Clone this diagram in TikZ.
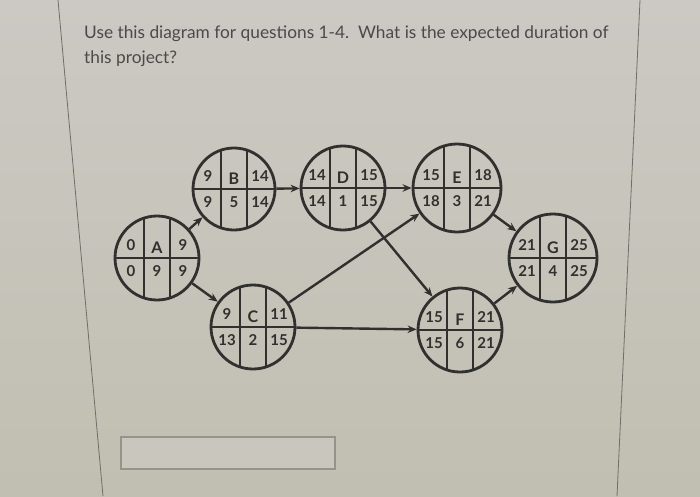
\documentclass[tikz,border=0pt]{standalone}
\usepackage{fontspec}
\setmainfont{Lato}
\usetikzlibrary{arrows.meta}
\definecolor{papertop}{RGB}{204,201,196}
\definecolor{paperbot}{RGB}{193,191,177}
\definecolor{ink}{RGB}{48,48,46}
\definecolor{qtext}{RGB}{74,74,72}
\definecolor{boxline}{RGB}{150,148,138}
\definecolor{boxfill}{RGB}{201,199,189}
\definecolor{edgeline}{RGB}{110,110,106}

\begin{document}
\begin{tikzpicture}[x=1pt, y=-1pt, color=ink]
    \tikzset{
      actnode/.style={circle, draw=ink, line width=2.8pt, minimum size=#1pt, inner sep=0pt},
      cellline/.style={draw=ink, line width=1.6pt},
      celltext/.style={text=ink, inner sep=0pt, font=\fontsize{15}{17}\selectfont\bfseries},
      lettertext/.style={celltext, font=\fontsize{16}{18}\selectfont\bfseries},
      network/.style={-{Stealth[length=9pt, width=7.5pt]}, line width=2.4pt, draw=ink},
      question/.style={anchor=base west, inner sep=0pt, text=qtext, font=\fontsize{17.3}{20}\selectfont}
    }
    % screen photo background
    \shade[top color=papertop, bottom color=paperbot] (0,0) rectangle (700,496);
    \useasboundingbox (0,0) rectangle (700,496);
    \draw[edgeline, line width=0.8pt] (58,0) -- (103,496);
    \draw[edgeline, line width=0.8pt] (640,0) -- (617,496);

    \node (q1) [question] at (84,38) {Use this diagram for questions 1-4.\ \ What is the expected duration of};
    \node (q2) [question] at (84,63) {this project?};

    % activity nodes: name/x/y/radius/ES/letter/EF/LS/duration/LF
    \foreach \n/\x/\y/\r/\es/\l/\ef/\ls/\d/\lf in {
        A/157/258/42/0/A/9/0/9/9,
        B/234/189/41/9/B/14/9/5/14,
        D/343/188/42/14/D/15/14/1/15,
        E/457/188/44/15/E/18/18/3/21,
        C/253/327/42/9/C/11/13/2/15,
        F/460/330/42/15/F/21/15/6/21,
        G/553/258/44/21/G/25/21/4/25}
    {
      \draw (\x,\y) node (\n) [actnode=2*\r] {};
      \begin{scope}
        \clip (\x,\y) circle (\r);
        \draw[cellline] (\x-\r,\y) -- (\x+\r,\y);
        \draw[cellline] (\x-13,\y-\r) -- (\x-13,\y+\r);
        \draw[cellline] (\x+13,\y-\r) -- (\x+13,\y+\r);
      \end{scope}
      \node (\n-es) [celltext] at (\x-26,\y-13) {\es};
      \node (\n-l)  [lettertext] at (\x,\y-10) {\l};
      \node (\n-ef) [celltext] at (\x+26,\y-13) {\ef};
      \node (\n-ls) [celltext] at (\x-26,\y+13) {\ls};
      \node (\n-d)  [celltext] at (\x,\y+13) {\d};
      \node (\n-lf) [celltext] at (\x+26,\y+13) {\lf};
    }

    \foreach \from/\to in {A/B, A/C, B/D, D/E, D/F, C/E, C/F, E/G, F/G}
      \draw[network] (\from) -- (\to);

    % answer field
    \draw[boxline, fill=boxfill, line width=1.4pt] (121,437) rectangle (335,469) node (answer) [midway] {};

\end{tikzpicture}
\end{document}
